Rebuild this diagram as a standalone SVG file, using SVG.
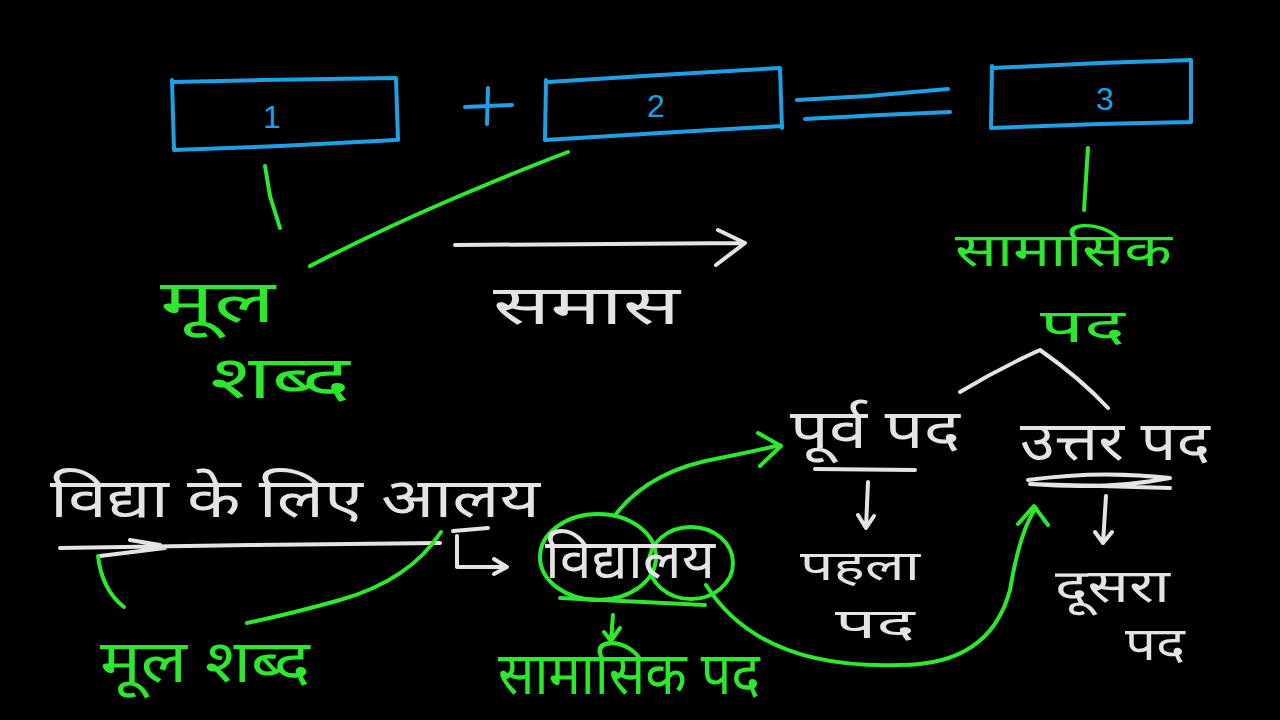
<svg xmlns="http://www.w3.org/2000/svg" width="1280" height="720" viewBox="0 0 1280 720">
<defs>
<style>
.bx{fill:none;stroke:#1ea0e6;stroke-width:4;stroke-linejoin:round;stroke-linecap:round}
.bt{fill:#1ea0e6;font-family:"Liberation Sans",sans-serif;font-size:32px;text-anchor:middle}
.g{fill:none;stroke:#2ee82e;stroke-width:4;stroke-linecap:round;stroke-linejoin:round}
.w{fill:none;stroke:#e4e4e4;stroke-width:4;stroke-linecap:round;stroke-linejoin:round}
.tw{fill:#e4e4e4;font-family:"Noto Sans Devanagari","Noto Sans","Lohit Devanagari",sans-serif;font-size:54px}
.tg{fill:#2ee82e;font-family:"Noto Sans Devanagari","Noto Sans","Lohit Devanagari",sans-serif;font-size:60px}
.sm{font-size:46px}
.xs{font-size:42px}
</style>
</defs>
<rect width="1280" height="720" fill="#000"/>
<g id="box1"><path class="bx" d="M173,82 L262,80 L396,78 L398,140 M172,80 L174,150 L280,146 L396,140"/><text class="bt" x="272" y="128">1</text></g>
<g id="plus"><path class="bx" d="M465,107 L512,105 M488,88 L487,124"/></g>
<g id="box2"><path class="bx" d="M548,82 L660,75 L780,68 L782,128 M546,80 L545,140 L660,133 L782,126"/><text class="bt" x="656" y="117">2</text></g>
<g id="equals"><path class="bx" d="M797,100 L868,96 L948,89 M805,119 L880,115 L950,112"/></g>
<g id="box3"><path class="bx" d="M993,68 L1100,63 L1191,60 L1191,122 M992,66 L991,128 L1100,124 L1190,122"/><text class="bt" x="1105" y="110">3</text></g>
<g id="connectors">
<path class="g" d="M265,166 L270,196 L280,228"/>
<path class="g" d="M568,152 Q520,170 450,200 Q380,230 310,266"/>
<path class="g" d="M1088,148 L1084,210"/>
<path class="w" d="M455,245 L745,243 M718,230 L745,243 L716,265"/>
<path class="w" d="M960,392 Q1000,368 1040,350 Q1080,378 1108,408"/>
<path class="w" d="M815,469 L915,470"/>
<path class="w" d="M1028,480 Q1100,470 1170,478 Q1110,490 1030,484 L1170,488"/>
<path class="w" d="M868,482 L866,528 M858,515 L866,528 L874,516"/>
<path class="w" d="M1106,496 L1103,543 M1095,532 L1103,543 L1112,532"/>
<path class="w" d="M60,548 L250,545 L440,543 M100,556 L165,548 M130,540 L160,545"/>
<path class="w" d="M453,531 L488,528 M457,536 L457,567 L506,567 M494,559 L507,567 L494,574"/>
<path class="g" d="M98,556 Q102,590 124,607"/>
<path class="g" d="M441,532 Q410,580 340,600 Q290,614 247,623"/>
<ellipse class="g" cx="598" cy="557" rx="58" ry="43"/>
<ellipse class="g" cx="691" cy="563" rx="42" ry="36"/>
<path class="g" d="M560,598 L705,605"/>
<path class="g" d="M613,615 L611,641 M604,632 L611,641 L620,628"/>
<path class="g" d="M616,514 Q650,470 720,458 Q760,450 780,445 M758,433 L781,446 L760,466"/>
<path class="g" d="M706,585 Q760,670 900,665 Q990,665 1010,590 Q1020,530 1036,508 M1018,524 L1034,506 L1048,525"/>
</g>
<g id="mool1"><text class="tg" x="160" y="322" textLength="115" lengthAdjust="spacingAndGlyphs">मूल</text><text class="tg" x="210" y="398" textLength="140" lengthAdjust="spacingAndGlyphs">शब्द</text></g>
<g id="samas"><text class="tw" x="493" y="324" textLength="187" lengthAdjust="spacingAndGlyphs">समास</text></g>
<g id="samasik1"><text class="tg sm" x="955" y="266" textLength="217" lengthAdjust="spacingAndGlyphs">सामासिक</text><text class="tg sm" x="1040" y="342" textLength="85" lengthAdjust="spacingAndGlyphs">पद</text></g>
<g id="purva"><text class="tw" x="790" y="448" textLength="170" lengthAdjust="spacingAndGlyphs">पूर्व पद</text></g>
<g id="uttar"><text class="tw" x="1020" y="460" textLength="190" lengthAdjust="spacingAndGlyphs">उत्तर पद</text></g>
<g id="pahla"><text class="tw xs" x="800" y="580" textLength="120" lengthAdjust="spacingAndGlyphs">पहला</text><text class="tw xs" x="835" y="638" textLength="80" lengthAdjust="spacingAndGlyphs">पद</text></g>
<g id="doosra"><text class="tw sm" x="1055" y="602" textLength="115" lengthAdjust="spacingAndGlyphs">दूसरा</text><text class="tw sm" x="1125" y="660" textLength="60" lengthAdjust="spacingAndGlyphs">पद</text></g>
<g id="phrase"><text class="tw" x="50" y="517" textLength="490" lengthAdjust="spacingAndGlyphs">विद्या के लिए आलय</text></g>
<g id="vidyalaya"><text class="tw" x="545" y="578" textLength="170" lengthAdjust="spacingAndGlyphs">विद्यालय</text></g>
<g id="mool2"><text class="tg" x="100" y="682" textLength="210" lengthAdjust="spacingAndGlyphs">मूल शब्द</text></g>
<g id="samasik2"><text class="tg" x="498" y="694" textLength="262" lengthAdjust="spacingAndGlyphs">सामासिक पद</text></g>
</svg>
